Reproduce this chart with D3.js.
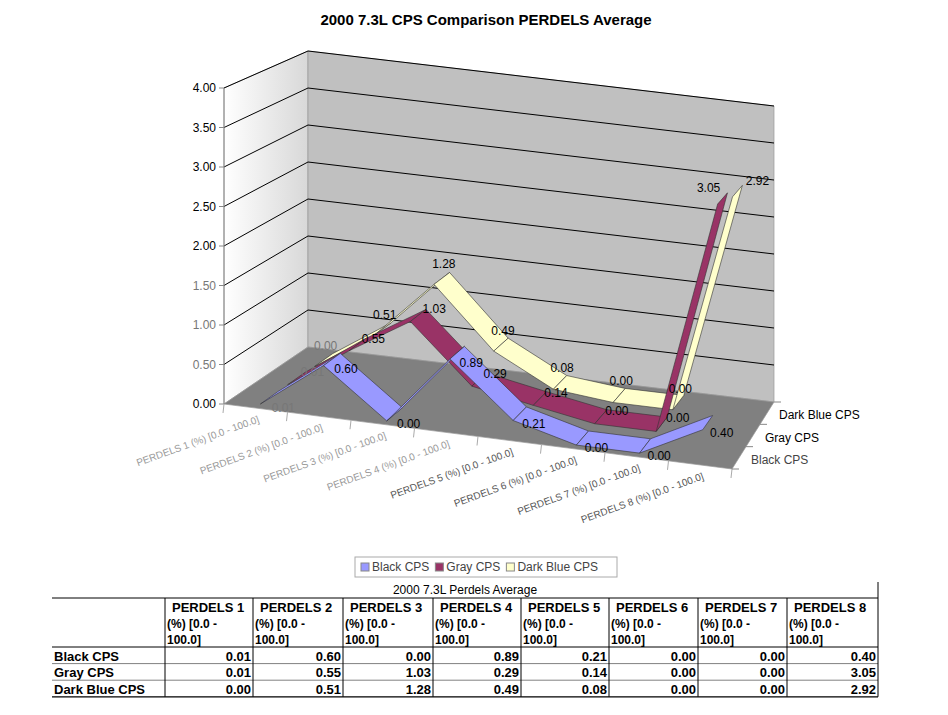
<!DOCTYPE html>
<html><head><meta charset="utf-8">
<script src="https://cdn.jsdelivr.net/npm/d3@7"></script>
<style>body{margin:0;background:#fff}text{font-family:Arial,"Liberation Sans",sans-serif}</style>
</head><body>
<script>
var categories = ["PERDELS 1","PERDELS 2","PERDELS 3","PERDELS 4","PERDELS 5","PERDELS 6","PERDELS 7","PERDELS 8"];
var seriesNames = ["Black CPS","Gray CPS","Dark Blue CPS"];
var blackCPS = [0.01,0.60,0.00,0.89,0.21,0.00,0.00,0.40];
var grayCPS = [0.01,0.55,1.03,0.29,0.14,0.00,0.00,3.05];
var darkBlueCPS = [0.00,0.51,1.28,0.49,0.08,0.00,0.00,2.92];
var valueTicks = [0,0.5,1,1.5,2,2.5,3,3.5,4];
var colors = ["#9999ff","#993366","#ffffcc"];
var allSeries = [blackCPS, grayCPS, darkBlueCPS];

var W = 948, H = 715;
var svg = d3.select("body").append("svg").attr("width", W).attr("height", H);

// floor corners (front-left, front-right, back-left, back-right) and height per unit
var FL=[224,404], FR=[732,469], BL=[308,347], BR=[774,402];
var hScale = d3.scaleLinear().domain([0,1]).range([79,74]); // by depth
var xS = d3.scaleLinear().domain([0, categories.length]).range([0,1]);
var zS = d3.scaleLinear().domain([0, seriesNames.length]).range([0,1]);
var yS = d3.scaleLinear().domain([0,4]).range([0,4]);

function P(u, v, val) { // u: 0..1 along categories, v: 0..1 depth, val: value
  var fx = FL[0] + (FR[0]-FL[0])*u, fy = FL[1] + (FR[1]-FL[1])*u;
  var bx = BL[0] + (BR[0]-BL[0])*u, by = BL[1] + (BR[1]-BL[1])*u;
  var x = fx + (bx-fx)*v, y = fy + (by-fy)*v;
  return [x, y - yS(val)*hScale(v)];
}
function poly(pts){ return "M" + pts.map(function(p){return p.join(",");}).join("L") + "Z"; }

svg.append("text").attr("x", 486).attr("y", 25).attr("text-anchor","middle")
  .attr("font-size", 15).attr("font-weight","bold").text("2000 7.3L CPS Comparison PERDELS Average");

// walls
var defs = svg.append("defs");
var lg = defs.append("linearGradient").attr("id","lw").attr("x1",0).attr("x2",1).attr("y1",0).attr("y2",0);
lg.append("stop").attr("offset","0").attr("stop-color","#ffffff");
lg.append("stop").attr("offset","1").attr("stop-color","#d8d8d8");
svg.append("path").attr("d", poly([P(0,0,0),P(0,1,0),P(0,1,4),P(0,0,4)]))
  .attr("fill","url(#lw)").attr("stroke","#999").attr("stroke-width",0.7);
svg.append("path").attr("d", poly([P(0,1,0),P(1,1,0),P(1,1,4),P(0,1,4)]))
  .attr("fill","#c0c0c0").attr("stroke","#999").attr("stroke-width",0.7);
svg.append("path").attr("d", poly([P(0,0,0),P(1,0,0),P(1,1,0),P(0,1,0)]))
  .attr("fill","#808080").attr("stroke","#999").attr("stroke-width",0.7);

// gridlines
valueTicks.forEach(function(t){
  if (t === 0) return;
  var a = P(0,0,t), b = P(0,1,t), c = P(1,1,t);
  svg.append("path").attr("d","M"+a+"L"+b+"L"+c).attr("fill","none").attr("stroke","#000").attr("stroke-width",1);
});

// value axis
svg.append("line").attr("x1",P(0,0,0)[0]).attr("y1",P(0,0,0)[1]).attr("x2",P(0,0,4)[0]).attr("y2",P(0,0,4)[1]).attr("stroke","#888");
valueTicks.forEach(function(t){
  var p = P(0,0,t);
  svg.append("line").attr("x1",p[0]-5).attr("y1",p[1]).attr("x2",p[0]).attr("y2",p[1]).attr("stroke","#888");
  svg.append("text").attr("x",p[0]-8).attr("y",p[1]+4).attr("text-anchor","end")
    .attr("font-size",12).attr("fill", t>0 && t<2 ? "#777" : "#000").text(d3.format(".2f")(t));
});

// category axis ticks + labels
for (var i = 0; i <= categories.length; i++) {
  var p = P(xS(i),0,0);
  svg.append("line").attr("x1",p[0]).attr("y1",p[1]).attr("x2",p[0]-1).attr("y2",p[1]+9).attr("stroke","#aaa");
}
categories.forEach(function(c,i){
  var p = P(xS(i+0.5),0,0);
  svg.append("text").attr("transform","translate("+(p[0]+4)+","+(p[1]+14)+") rotate(-20)")
    .attr("text-anchor","end").attr("font-size",10).attr("fill", i>=4 ? "#555":"#999")
    .text(c + " (%) [0.0 - 100.0]");
});

// depth axis labels
seriesNames.forEach(function(s,k){
  var p = P(1, zS(k+0.5), 0);
  svg.append("text").attr("x",p[0]+12).attr("y",p[1]+6).attr("font-size",12)
    .attr("fill", k===0 ? "#444":"#000").text(s);
});
for (var k = 0; k <= 3; k++) {
  var p = P(1, zS(k), 0);
  svg.append("line").attr("x1",p[0]).attr("y1",p[1]).attr("x2",p[0]+7).attr("y2",p[1]).attr("stroke","#888");
}

// ribbons, back to front; labels on a layer above all ribbons
var half = 0.11;
var labelDx = [14, 16, 2], labelDy = [14, -2, -10];
var ribbonLayer = svg.append("g"), labelLayer = svg.append("g");
[2,1,0].forEach(function(k){
  var vals = allSeries[k], zc = zS(k+0.5);
  for (var i = 0; i < vals.length-1; i++) {
    var u0 = xS(i+0.5), u1 = xS(i+1.5);
    var pts = [P(u0,zc-half,vals[i]),P(u1,zc-half,vals[i+1]),P(u1,zc+half,vals[i+1]),P(u0,zc+half,vals[i])];
    ribbonLayer.append("path").attr("d",poly(pts)).attr("fill",colors[k]).attr("stroke","#333").attr("stroke-width",0.6);
  }
  var vmax = d3.max(vals);
  vals.forEach(function(v,i){
    var p = P(xS(i+0.5), zc, v);
    var dx = labelDx[k], dy = labelDy[k];
    if (v === vmax && i === vals.length-1) { dx = k === 1 ? -14 : 20; dy = -6; }
    labelLayer.append("text").attr("x",p[0]+dx).attr("y",p[1]+dy).attr("text-anchor","middle")
      .attr("font-size",12).attr("fill", i===0 ? "#777" : "#000").text(d3.format(".2f")(v));
  });
});

// legend
var lgx = 355, lgy = 557;
svg.append("rect").attr("x",lgx).attr("y",lgy).attr("width",262).attr("height",20)
  .attr("fill","#fff").attr("stroke","#aaa");
var lx = lgx + 6;
seriesNames.forEach(function(s,k){
  svg.append("rect").attr("x",lx).attr("y",lgy+6).attr("width",8).attr("height",8).attr("fill",colors[k]).attr("stroke","#888");
  var t = svg.append("text").attr("x",lx+11).attr("y",lgy+14).attr("font-size",12).attr("fill","#444").text(s);
  lx += t.node().getComputedTextLength() + 17;
});

// data table
var colX = [52,165,253,343,433,521,609,698,787,878];
var tableTop = 598, headBottom = 647, rowH = 16.6;
var tg = svg.append("g").attr("font-size",13).attr("font-weight","bold");
tg.append("text").attr("x",465).attr("y",594).attr("text-anchor","middle").attr("font-size",12).attr("font-weight","normal").text("2000 7.3L Perdels Average");
tg.append("line").attr("x1",878).attr("x2",878).attr("y1",582).attr("y2",tableTop).attr("stroke","#000");
tg.append("line").attr("x1",52).attr("x2",878).attr("y1",tableTop).attr("y2",tableTop).attr("stroke","#000");
tg.append("line").attr("x1",52).attr("x2",878).attr("y1",headBottom).attr("y2",headBottom).attr("stroke","#000");
for (var r = 1; r <= 3; r++) {
  var yy = headBottom + r*rowH;
  tg.append("line").attr("x1",52).attr("x2",878).attr("y1",yy).attr("y2",yy).attr("stroke","#000").attr("stroke-width", r===3?1.2:0.5);
}
for (var c = 1; c < colX.length; c++) {
  tg.append("line").attr("x1",colX[c]).attr("x2",colX[c]).attr("y1",tableTop).attr("y2",headBottom+3*rowH).attr("stroke","#000");
}
categories.forEach(function(cat,i){
  var x0 = colX[i+1];
  tg.append("text").attr("x",x0+7).attr("y",tableTop+14).text(cat);
  tg.append("text").attr("x",x0+2).attr("y",tableTop+30).attr("font-size",12).text("(%) [0.0 -");
  tg.append("text").attr("x",x0+2).attr("y",tableTop+46).attr("font-size",12).text("100.0]");
});
seriesNames.forEach(function(s,k){
  var yy = headBottom + (k+1)*rowH - 3;
  tg.append("text").attr("x",54).attr("y",yy).text(s);
  allSeries[k].forEach(function(v,i){
    tg.append("text").attr("x",colX[i+2]-2).attr("y",yy).attr("text-anchor","end").text(d3.format(".2f")(v));
  });
});
</script>
</body></html>
